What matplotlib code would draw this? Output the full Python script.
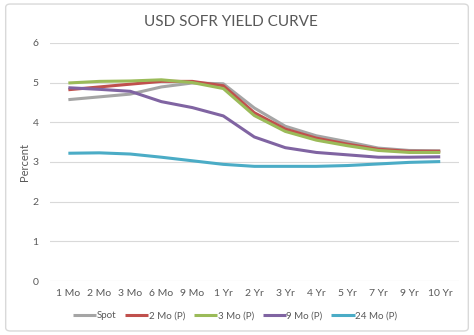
import matplotlib.pyplot as plt
from matplotlib.patches import FancyBboxPatch
import numpy as np

plt.rcParams['font.family'] = ['Lato', 'DejaVu Sans']

# tenors on the x axis
tenors = ['1 Mo', '2 Mo', '3 Mo', '6 Mo', '9 Mo', '1 Yr', '2 Yr', '3 Yr',
          '4 Yr', '5 Yr', '7 Yr', '9 Yr', '10 Yr']

# yields in percent
spot = [4.57, 4.64, 4.71, 4.89, 4.99, 4.97, 4.36, 3.90, 3.66, 3.51, 3.35, 3.29, 3.28]
mo2 = [4.82, 4.89, 4.96, 5.03, 5.03, 4.92, 4.24, 3.83, 3.60, 3.45, 3.32, 3.27, 3.27]
mo3 = [4.99, 5.03, 5.04, 5.07, 5.00, 4.85, 4.17, 3.77, 3.55, 3.41, 3.29, 3.24, 3.24]
mo9 = [4.87, 4.83, 4.78, 4.52, 4.37, 4.16, 3.63, 3.36, 3.24, 3.18, 3.12, 3.12, 3.13]
mo24 = [3.22, 3.23, 3.20, 3.12, 3.03, 2.94, 2.89, 2.89, 2.89, 2.91, 2.95, 2.99, 3.01]

series_names = ['Spot', '2 Mo (P)', '3 Mo (P)', '9 Mo (P)', '24 Mo (P)']
series_colors = ['#A5A5A5', '#C0504D', '#9BBB59', '#8064A2', '#4BACC6']

txt = '#595959'

fig = plt.figure(figsize=(4.74, 3.35), dpi=100)
ax = fig.add_axes([0.105, 0.161, 0.863, 0.711])

x = np.arange(len(tenors))
for vals, name, col in zip([spot, mo2, mo3, mo9, mo24], series_names, series_colors):
    ax.plot(x, vals, color=col, lw=2.2, label=name, solid_capstyle='butt')

ax.set_xlim(-0.6, len(tenors) - 0.4)
ax.set_ylim(0, 6)
ax.set_yticks(range(0, 7))
ax.set_xticks(x)
ax.set_xticklabels(tenors)
ax.tick_params(axis='both', length=0, labelsize=7.5, labelcolor=txt)
ax.tick_params(axis='y', pad=8)
ax.tick_params(axis='x', pad=6)
ax.grid(axis='y', color='#D9D9D9', lw=0.8)
ax.set_axisbelow(True)
for s in ax.spines.values():
    s.set_visible(False)

ax.set_ylabel('Percent', fontsize=8, color=txt, labelpad=2)
fig.text(0.487, 0.935, 'USD SOFR YIELD CURVE', ha='center', va='center',
         fontsize=11, color=txt)

ax.legend(loc='center', bbox_to_anchor=(0.453, -0.145), ncol=5, frameon=False,
          fontsize=7, labelcolor=txt, handlelength=2.4, handletextpad=0.05,
          columnspacing=0.9)

# light chart border
border = FancyBboxPatch((0.012, 0.012), 0.976, 0.976, boxstyle='round,pad=0,rounding_size=0.01',
                        transform=fig.transFigure, fill=False, ec='#D9D9D9', lw=1)
fig.patches.append(border)

fig.savefig('out.png', dpi=100)
